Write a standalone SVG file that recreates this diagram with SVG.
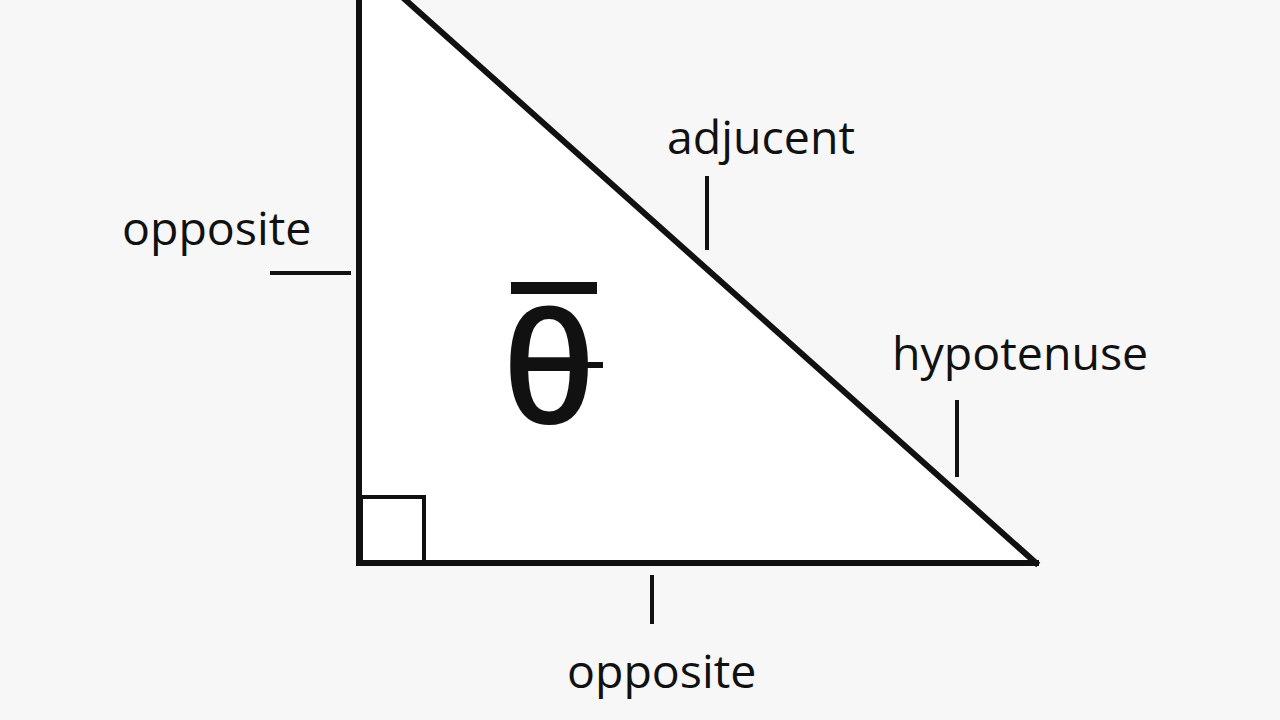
<svg xmlns="http://www.w3.org/2000/svg" width="1280" height="720" viewBox="0 0 1280 720">
<style>
.lbl{font-family:"Open Sans","Noto Sans",sans-serif;font-size:46.5px;fill:#111}
.edge{stroke:#111;stroke-width:6;fill:none;stroke-linecap:square}
.tick{stroke:#111;stroke-width:4;fill:none}
</style>
<rect width="1280" height="720" fill="#f7f7f7"/>
<g id="triangle">
<polygon points="359,-10 359,563 1036,563 394,-10" fill="#ffffff" stroke="none"/>
<line class="edge" x1="359" y1="-5" x2="359" y2="563"/>
<line class="edge" x1="359" y1="563" x2="1036" y2="563"/>
<line class="edge" x1="400" y1="-5" x2="1036" y2="563"/>
<rect x="361" y="497" width="63" height="66" fill="none" stroke="#111" stroke-width="4"/>
</g>
<g id="theta">
<text x="549" y="424" text-anchor="middle" style="font-family:'Open Sans','Noto Sans',sans-serif;font-size:154px;font-weight:600;fill:#111">θ</text>
<rect x="511" y="282" width="86" height="12" fill="#111"/>
<rect x="527" y="362" width="76" height="6" fill="#111"/>
</g>
<g id="connectors">
<line class="tick" x1="707" y1="176" x2="707" y2="250"/>
<line class="tick" x1="270" y1="273" x2="351" y2="273"/>
<line class="tick" x1="957" y1="400" x2="957" y2="477"/>
<line class="tick" x1="652" y1="575" x2="652" y2="624"/>
</g>
<g id="label-adjucent"><text class="lbl" x="667" y="154">adjucent</text></g>
<g id="label-opposite-left"><text class="lbl" x="122" y="245">opposite</text></g>
<g id="label-hypotenuse"><text class="lbl" x="892" y="370">hypotenuse</text></g>
<g id="label-opposite-bottom"><text class="lbl" x="567" y="688">opposite</text></g>
</svg>
